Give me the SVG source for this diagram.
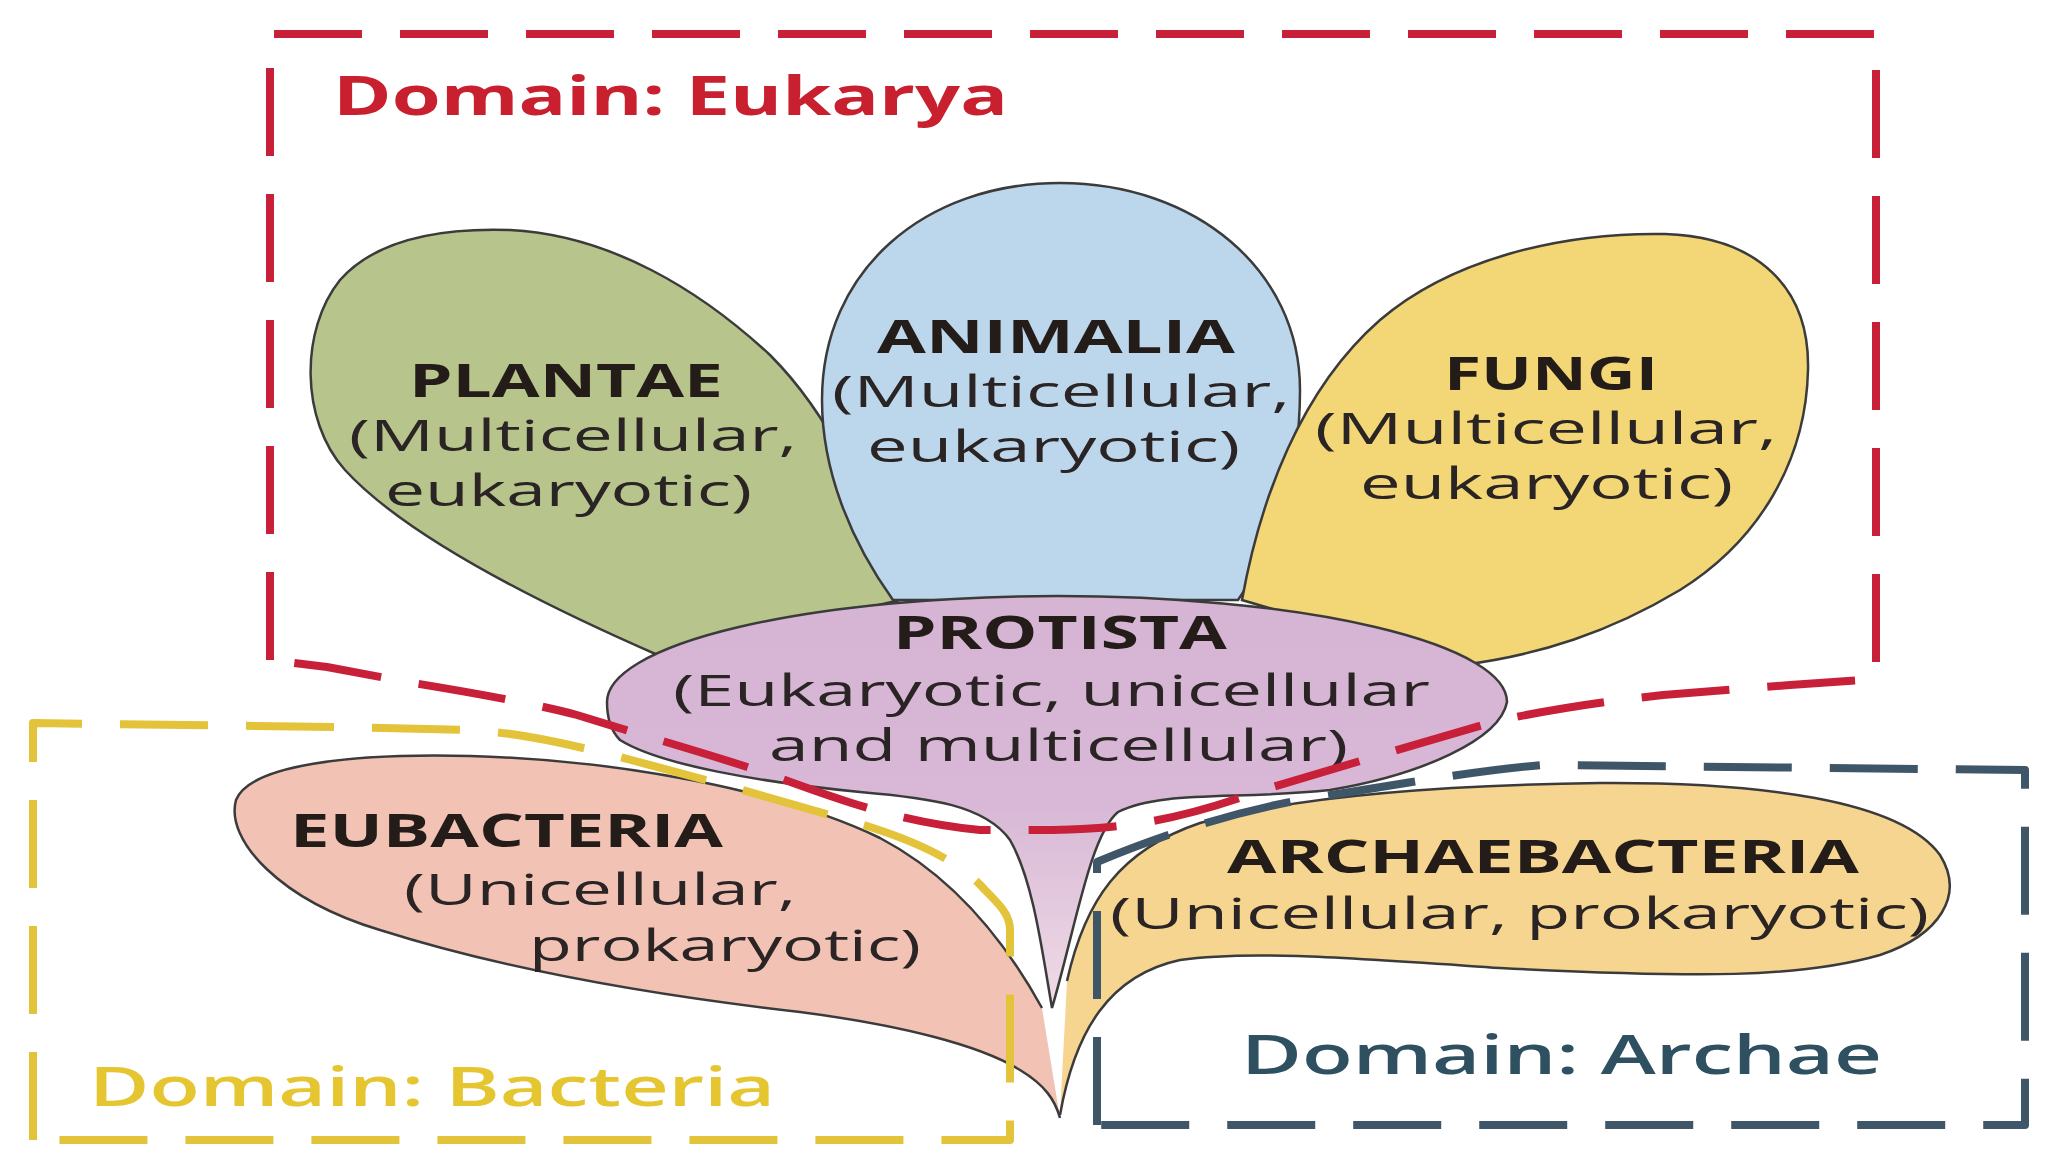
<svg xmlns="http://www.w3.org/2000/svg" width="2048" height="1152" viewBox="0 0 2048 1152">
<defs>
<style>
.petal{stroke:#3b3b3b;stroke-width:2.5}
.edge{fill:none;stroke:#3b3b3b;stroke-width:2.5}
.t{font-family:"Open Sans","Liberation Sans",Arial,sans-serif;font-weight:bold;font-size:46px;fill:#231c18}
.s{font-family:"Open Sans","Liberation Sans",Arial,sans-serif;font-weight:normal;font-size:43px;fill:#2a2424}
.d{font-family:"Open Sans","Liberation Sans",Arial,sans-serif;font-weight:600;font-size:54px}
.box{fill:none;stroke-width:8;stroke-dasharray:88 38;stroke-linecap:butt;stroke-linejoin:round}
</style>
<linearGradient id="protGrad" gradientUnits="userSpaceOnUse" x1="0" y1="600" x2="0" y2="1010">
<stop offset="0" stop-color="#d6b4d4"/>
<stop offset="0.5" stop-color="#d8b8d6"/>
<stop offset="1" stop-color="#f0dce6"/>
</linearGradient>
</defs>
<rect width="2048" height="1152" fill="#ffffff"/>

<g id="plantae">
<path class="petal" fill="#b7c48c" d="M660,656 C520,595 400,530 345,470 C300,420 300,330 340,280 C380,235 450,228 510,230 C610,235 700,290 770,355 C830,415 870,500 900,600 Z"/>
</g>
<g id="animalia">
<path class="petal" fill="#bcd6ec" d="M893,600 C850,540 822,470 822,400 C822,270 925,183 1060,183 C1195,183 1300,270 1300,390 C1300,470 1280,540 1238,600 Z"/>
</g>
<g id="fungi">
<path class="petal" fill="#f3d676" d="M1242,600 C1260,500 1300,390 1380,320 C1450,260 1560,232 1665,234 C1760,237 1810,290 1808,370 C1806,460 1760,540 1680,590 C1610,632 1540,655 1462,665 Z"/>
</g>
<g id="eubacteria">
<path fill="#f2c3b5" d="M1042,1008 C1010,950 960,880 880,838 C780,790 620,760 470,756 C350,753 250,765 236,800 C225,840 280,900 380,930 C500,968 650,995 800,1012 C900,1025 980,1045 1020,1070 C1045,1085 1055,1100 1060,1118 Z"/>
<path class="edge" d="M1042,1008 C1010,950 960,880 880,838 C780,790 620,760 470,756 C350,753 250,765 236,800 C225,840 280,900 380,930 C500,968 650,995 800,1012 C900,1025 980,1045 1020,1070 C1045,1085 1055,1100 1060,1118"/>
</g>
<g id="archaebacteria">
<path fill="#f5d590" d="M1067,981 C1085,900 1120,850 1200,823 C1300,795 1450,785 1600,783 C1760,782 1900,800 1940,855 C1965,895 1940,935 1880,955 C1800,978 1700,978 1500,968 C1350,958 1250,950 1180,960 C1110,975 1075,1030 1060,1115 Z"/>
<path class="edge" d="M1067,981 C1085,900 1120,850 1200,823 C1300,795 1450,785 1600,783 C1760,782 1900,800 1940,855 C1965,895 1940,935 1880,955 C1800,978 1700,978 1500,968 C1350,958 1250,950 1180,960 C1110,975 1075,1030 1060,1115"/>
</g>
<g id="protista">
<path class="petal" fill="url(#protGrad)" d="M607,702 A450,106 0 0 1 1507,702 C1500,740 1420,775 1330,790 C1240,800 1160,790 1118,812 C1090,835 1075,930 1052,1008 C1042,950 1033,880 1010,840 C985,805 930,798 860,792 C760,782 660,765 620,740 C610,730 607,715 607,702 Z"/>
</g>

<g id="labels">
<text class="t" x="409" y="397" textLength="314" lengthAdjust="spacingAndGlyphs">PLANTAE</text>
<text class="s" x="349" y="451" textLength="448" lengthAdjust="spacingAndGlyphs">(Multicellular,</text>
<text class="s" x="385" y="506" textLength="367" lengthAdjust="spacingAndGlyphs">eukaryotic)</text>

<text class="t" x="877" y="353" textLength="358" lengthAdjust="spacingAndGlyphs">ANIMALIA</text>
<text class="s" x="832" y="407" textLength="458" lengthAdjust="spacingAndGlyphs">(Multicellular,</text>
<text class="s" x="867" y="462" textLength="373" lengthAdjust="spacingAndGlyphs">eukaryotic)</text>

<text class="t" x="1444" y="390" textLength="214" lengthAdjust="spacingAndGlyphs">FUNGI</text>
<text class="s" x="1315" y="444" textLength="462" lengthAdjust="spacingAndGlyphs">(Multicellular,</text>
<text class="s" x="1360" y="499" textLength="373" lengthAdjust="spacingAndGlyphs">eukaryotic)</text>

<text class="t" x="893" y="649" textLength="334" lengthAdjust="spacingAndGlyphs">PROTISTA</text>
<text class="s" x="673" y="706" textLength="757" lengthAdjust="spacingAndGlyphs">(Eukaryotic, unicellular</text>
<text class="s" x="769" y="761" textLength="579" lengthAdjust="spacingAndGlyphs">and multicellular)</text>

<text class="t" x="290" y="847" textLength="433" lengthAdjust="spacingAndGlyphs">EUBACTERIA</text>
<text class="s" x="404" y="905" textLength="392" lengthAdjust="spacingAndGlyphs">(Unicellular,</text>
<text class="s" x="529" y="961" textLength="392" lengthAdjust="spacingAndGlyphs">prokaryotic)</text>

<text class="t" x="1227" y="873" textLength="632" lengthAdjust="spacingAndGlyphs">ARCHAEBACTERIA</text>
<text class="s" x="1110" y="929" textLength="819" lengthAdjust="spacingAndGlyphs">(Unicellular, prokaryotic)</text>
</g>

<g id="domains">
<path class="box" stroke="#c9203a" d="M270,660 L270,34 L1876,34 L1876,679 L1790,685 L1663,695 C1600,702 1560,708 1500,720 C1420,743 1330,770 1263,790 C1200,812 1150,828 1053,830 L980,830 C900,822 840,800 777,777 C720,757 640,735 577,715 C540,705 480,694 413,683 L327,667 Z"/>
<path class="box" stroke="#e3c33a" stroke-width="7" d="M33,1140 L33,723 L340,727 L470,730 C520,733 560,742 620,757 C700,778 780,800 870,827 C920,843 960,862 985,890 C1000,905 1010,915 1010,930 L1010,1140 Z"/>
<path class="box" stroke="#3f5568" stroke-width="7" d="M1097,1125 L1097,862 C1150,840 1220,815 1300,800 C1400,784 1480,770 1543,765 L2025,770 L2025,1125 Z"/>
<text class="d" x="333" y="115" fill="#c8202f" style="font-weight:bold" textLength="675" lengthAdjust="spacingAndGlyphs">Domain: Eukarya</text>
<text class="d" x="89" y="1106" fill="#e5c530" textLength="686" lengthAdjust="spacingAndGlyphs">Domain: Bacteria</text>
<text class="d" x="1241" y="1074" fill="#2e5060" textLength="641" lengthAdjust="spacingAndGlyphs">Domain: Archae</text>
</g>
</svg>
